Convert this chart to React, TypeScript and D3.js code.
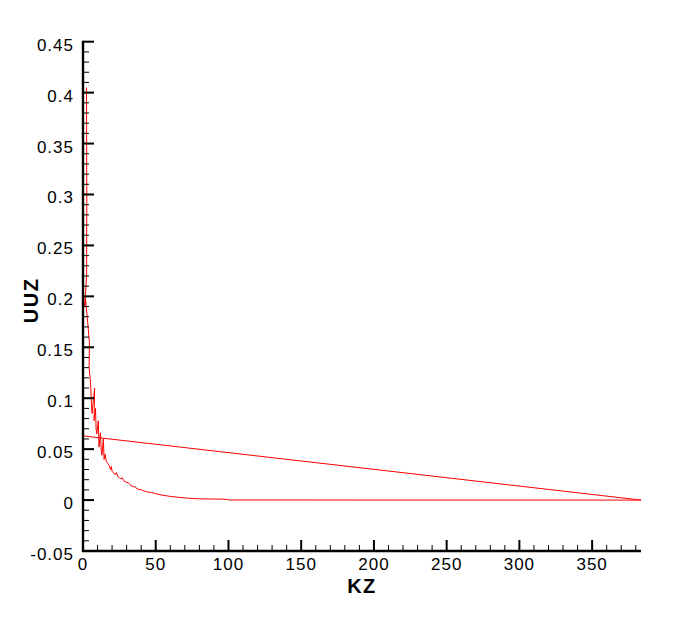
import { useEffect, useRef } from 'react';
import * as d3 from 'd3';

// spectrum samples (KZ, UUZ), drawn in file order
const kz = [
  2.4, 2.6, 2.5, 1.2, 1.6, 3.2, 3.8, 4.4, 4.2, 5.2, 5.8, 6.2, 8.0, 7.6, 8.6, 9.0, 9.5, 10.5,
  11.0, 12.0, 12.6, 13.0, 14.0, 14.5, 15.2, 16.0, 17.0, 18.0, 19.0, 19.5, 20.0, 21.0, 22.0, 23.0,
  24.0, 25.0, 26.0, 27.0, 28.0, 29.0, 31.0, 32.0, 33.0, 35.0, 36.0, 37.0, 40.0, 41.0, 43.0, 46.0,
  47.0, 50.0, 55.0, 60.0, 65.0, 70.0, 75.0, 80.0, 90.0, 97.0, 100.0, 101.0, 150.0, 200.0, 250.0,
  300.0, 383.6, 0.0,
];
const uuz = [
  0.405, 0.3, 0.22, 0.19, 0.2, 0.175, 0.165, 0.155, 0.13, 0.115, 0.095, 0.085, 0.11, 0.078, 0.09, 0.07, 0.065, 0.078,
  0.052, 0.066, 0.048, 0.044, 0.06, 0.04, 0.045, 0.038, 0.036, 0.034, 0.03, 0.033, 0.028, 0.027, 0.025, 0.027,
  0.023, 0.022, 0.021, 0.022, 0.019, 0.018, 0.017, 0.016, 0.014, 0.013, 0.013, 0.011, 0.01, 0.0095, 0.0085, 0.0075,
  0.0076, 0.0062, 0.0047, 0.0036, 0.0028, 0.0021, 0.0016, 0.0012, 0.001, 0.0009, 0.0003, 0.0001, 0.0001, 0, 0,
  0, 0, 0.063,
];

const xTicks = [0, 50, 100, 150, 200, 250, 300, 350];
const yTicks = [-0.05, 0, 0.05, 0.1, 0.15, 0.2, 0.25, 0.3, 0.35, 0.4, 0.45];

const W = 673;
const H = 619;

export default function App() {
  const ref = useRef<SVGSVGElement>(null);

  useEffect(() => {
    if (!ref.current) return;
    const svg = d3.select(ref.current);
    svg.selectAll('*').remove();

    const left = 83, right = 641, top = 41.7, bottom = 551;
    const x = d3.scaleLinear().domain([0, 383.6]).range([left, right]);
    const y = d3.scaleLinear().domain([-0.05, 0.45]).range([bottom, top]);

    const pts = kz.map((k, i) => [k, uuz[i]] as [number, number]);

    // data line
    svg.append('path')
      .datum(pts)
      .attr('fill', 'none')
      .attr('stroke', '#ff0000')
      .attr('stroke-width', 1)
      .attr('d', d3.line().x(d => x(d[0])).y(d => y(d[1])));

    const font = '"Liberation Sans", Arial, sans-serif';

    // minor ticks
    const xMinor = d3.range(0, 384, 10).filter(v => v % 50 !== 0);
    svg.selectAll('.xminor').data(xMinor).enter().append('line')
      .attr('x1', d => x(d)).attr('x2', d => x(d))
      .attr('y1', bottom).attr('y2', bottom - 6)
      .attr('stroke', '#000').attr('stroke-width', 1);
    const yMinor = d3.range(-0.05, 0.451, 0.01).filter(v => Math.abs(Math.round(v * 20) - v * 20) > 1e-6);
    svg.selectAll('.yminor').data(yMinor).enter().append('line')
      .attr('x1', left).attr('x2', left + 6)
      .attr('y1', d => y(d)).attr('y2', d => y(d))
      .attr('stroke', '#000').attr('stroke-width', 1);

    // major ticks
    svg.selectAll('.xmajor').data(xTicks).enter().append('line')
      .attr('x1', d => x(d)).attr('x2', d => x(d))
      .attr('y1', bottom).attr('y2', bottom - 11)
      .attr('stroke', '#000').attr('stroke-width', 2);
    svg.selectAll('.ymajor').data(yTicks).enter().append('line')
      .attr('x1', left).attr('x2', left + 11)
      .attr('y1', d => y(d)).attr('y2', d => y(d))
      .attr('stroke', '#000').attr('stroke-width', 2);

    // axis lines
    svg.append('line')
      .attr('x1', left).attr('x2', left).attr('y1', top - 1).attr('y2', bottom + 1)
      .attr('stroke', '#000').attr('stroke-width', 2.4);
    svg.append('line')
      .attr('x1', left - 1).attr('x2', right).attr('y1', bottom).attr('y2', bottom)
      .attr('stroke', '#000').attr('stroke-width', 2.4);

    // tick labels
    svg.selectAll('.xlab').data(xTicks).enter().append('text')
      .attr('x', d => x(d)).attr('y', bottom + 19)
      .attr('text-anchor', 'middle')
      .style('font-family', font).style('font-size', '17px').style('letter-spacing', '1px')
      .text(d => String(d));
    svg.selectAll('.ylab').data(yTicks).enter().append('text')
      .attr('x', left - 9).attr('y', d => y(d) + 9)
      .attr('text-anchor', 'end')
      .style('font-family', font).style('font-size', '17px').style('letter-spacing', '1px')
      .text(d => String(+d.toFixed(2)));

    // axis titles
    svg.append('text')
      .attr('x', (left + right) / 2).attr('y', 593)
      .attr('text-anchor', 'middle')
      .style('font-family', font).style('font-size', '20px').style('font-weight', 'bold')
      .style('letter-spacing', '1.5px')
      .text('KZ');
    svg.append('text')
      .attr('transform', `translate(38,${(top + bottom) / 2 + 4}) rotate(-90)`)
      .attr('text-anchor', 'middle')
      .style('font-family', font).style('font-size', '20px').style('font-weight', 'bold')
      .style('letter-spacing', '1.5px')
      .text('UUZ');
  }, []);

  return (
    <svg
      ref={ref}
      width={W}
      height={H}
      style={{ position: 'absolute', left: 0, top: 0, background: '#fff' }}
    />
  );
}
